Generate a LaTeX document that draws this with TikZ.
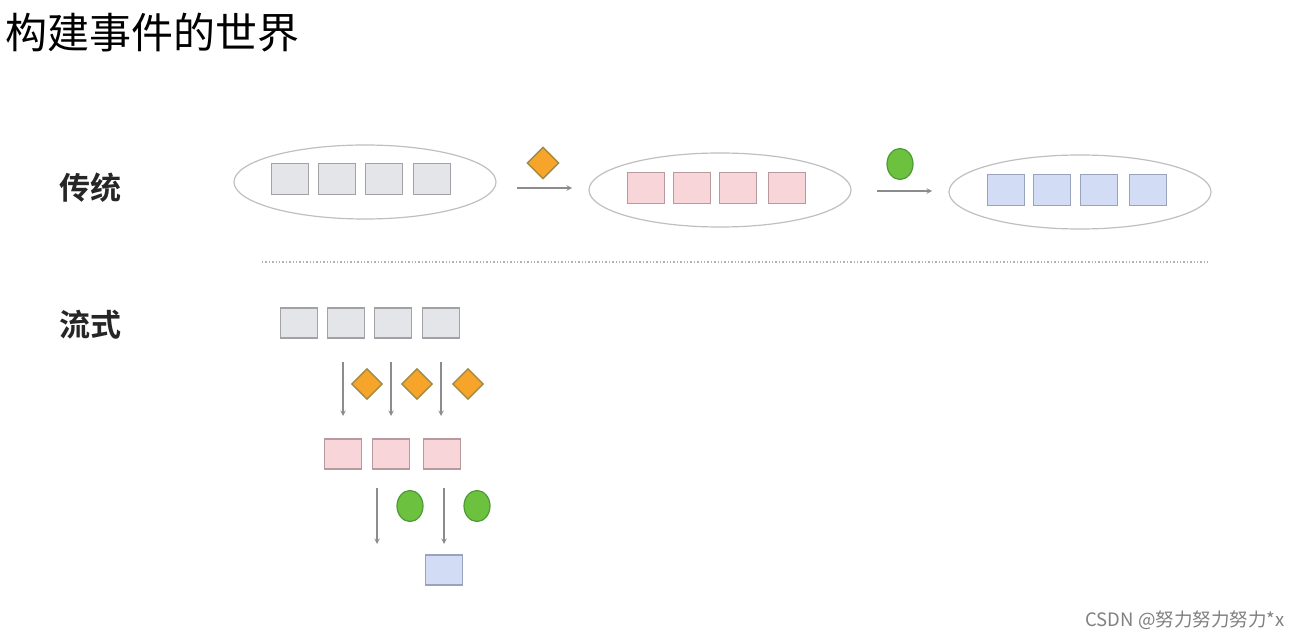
\documentclass[tikz,border=0pt]{standalone}
\usepackage{fontspec}
\newfontfamily\cjk{Noto Sans CJK SC}
\newfontfamily\cjkb{Noto Sans CJK SC Bold}
\setmainfont{Liberation Sans}
\usetikzlibrary{shapes.geometric}
\definecolor{gf}{HTML}{E4E5E9}\definecolor{gd}{HTML}{A2A2A6}
\definecolor{pf}{HTML}{F7D5D9}\definecolor{pd}{HTML}{B8999D}
\definecolor{bf}{HTML}{D3DCF5}\definecolor{bd}{HTML}{9AA3BE}
\definecolor{of}{HTML}{F7A52A}\definecolor{od}{HTML}{A08A45}
\definecolor{grf}{HTML}{6CC13E}\definecolor{grd}{HTML}{4C9A35}
\begin{document}
\begin{tikzpicture}[x=1pt,y=-1pt,
 sq/.style={draw=#1d,fill=#1f,line width=1.4pt,minimum width=37pt,minimum height=31pt,inner sep=0pt},
 ell/.style={draw=gray!50,line width=1.2pt,ellipse,minimum width=262pt,minimum height=74pt},
 dia/.style={draw=od,fill=of,line width=1.4pt,diamond,minimum width=32pt,minimum height=32pt,inner sep=0pt},
 dot/.style={draw=grd,fill=grf,line width=1.2pt,ellipse,minimum width=26pt,minimum height=31pt,inner sep=0pt},
 arr/.style={draw=gray!90,line width=1.4pt,-stealth},
 lab/.style={font=\cjkb\fontsize{31}{31}\selectfont,anchor=west,text=black!85}]
\useasboundingbox (0,0) rectangle (1296,639);
\node[font=\cjk\fontsize{42}{42}\selectfont,anchor=west] (title) at (2,33) {构建事件的世界};
\node[lab] (l1) at (56,188) {传统};
\node[lab] (l2) at (56,325) {流式};
\node[ell] (e1) at (365,182) {};
\node[ell] (e2) at (720,190) {};
\node[ell] (e3) at (1080,192) {};
\foreach \x [count=\i] in {290,337,384,432}{\node[sq=g] (a\i) at (\x,179) {};}
\foreach \x [count=\i] in {646,692,738,787}{\node[sq=p] (b\i) at (\x,188) {};}
\foreach \x [count=\i] in {1006,1052,1099,1148}{\node[sq=b] (c\i) at (\x,190) {};}
\coordinate (p1) at (517,188); \coordinate (q1) at (572,188);
\draw[arr] (p1) -- (q1);
\node[dia] (d0) at (543,163) {};
\coordinate (p2) at (877,191); \coordinate (q2) at (932,191);
\draw[arr] (p2) -- (q2);
\node[dot] (g0) at (900,164) {};
\coordinate (s1) at (262,262); \coordinate (s2) at (1208,262);
\draw[gray!60,line width=1.4pt,dotted] (s1) -- (s2);
\foreach \x [count=\i] in {299,346,393,441}{\node[sq=g,minimum height=30pt] (m\i) at (\x,323) {};}
\foreach \x [count=\i] in {343,391,441}{
  \coordinate (u\i) at (\x,362); \coordinate (v\i) at (\x,416);
  \draw[arr] (u\i) -- (v\i);}
\foreach \x [count=\i] in {367,417,468}{\node[dia,minimum width=31pt,minimum height=31pt] (d\i) at (\x,384) {};}
\foreach \x [count=\i] in {343,391,442}{\node[sq=p,minimum height=30pt] (n\i) at (\x,454) {};}
\foreach \x [count=\i] in {377,444}{
  \coordinate (w\i) at (\x,488); \coordinate (z\i) at (\x,544);
  \draw[arr] (w\i) -- (z\i);}
\foreach \x [count=\i] in {410,477}{\node[dot] (g\i) at (\x,506) {};}
\node[sq=b,minimum height=30pt] (k1) at (444,570) {};
\node[font=\cjk\fontsize{18.5}{18.5}\selectfont,text=gray,anchor=east] (wm) at (1288,620) {CSDN @努力努力努力*x};
\end{tikzpicture}
\end{document}
